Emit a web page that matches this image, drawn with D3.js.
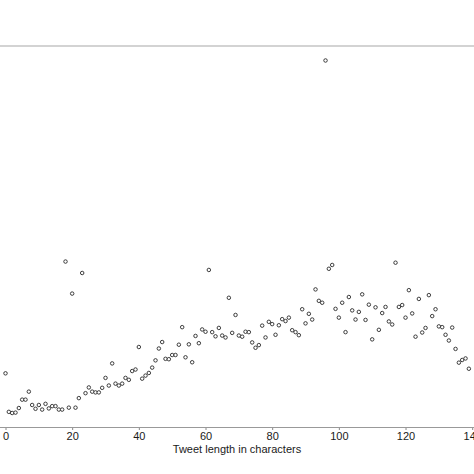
<!DOCTYPE html>
<html>
<head>
<meta charset="utf-8">
<script src="https://cdn.jsdelivr.net/npm/d3@7"></script>
<style>
  html, body { margin: 0; padding: 0; background: #fff; }
  svg { display: block; font-family: "Liberation Sans", Arial, sans-serif; }
</style>
</head>
<body>
<svg id="chart" width="474" height="474"></svg>
<script>
// Tweet length (characters) and the measured value for each length
const lengths = d3.range(0, 140);
const values = [
  14.2, 4.1, 3.8, 3.9, 5.1, 7.3, 7.3, 9.4, 5.9, 4.9,
  5.9, 4.7, 6.2, 5.0, 5.6, 5.6, 4.7, 4.7, 43.5, 5.2,
  35.1, 5.2, 7.7, 40.5, 9.0, 10.5, 9.4, 9.2, 9.2, 10.4,
  13.0, 11.0, 16.8, 11.5, 11.0, 11.5, 13.0, 12.5, 14.8, 15.2,
  21.1, 12.8, 13.6, 14.3, 15.7, 17.6, 20.7, 22.4, 18.0, 17.9,
  19.0, 19.0, 21.7, 26.3, 18.4, 21.8, 17.1, 24.0, 22.1, 25.7,
  25.1, 41.3, 25.0, 23.9, 26.1, 24.1, 23.6, 34.0, 24.8, 29.5,
  24.1, 23.8, 25.1, 25.0, 22.3, 20.9, 21.6, 26.7, 23.6, 27.7,
  27.1, 24.3, 26.8, 28.4, 27.9, 28.8, 25.5, 25.0, 24.2, 31.0,
  27.3, 29.8, 28.3, 36.2, 33.2, 32.7, 96.2, 41.6, 42.6, 31.1,
  28.8, 32.7, 25.0, 34.2, 30.7, 28.3, 30.3, 34.9, 28.2, 32.2,
  23.1, 31.5, 25.6, 30.0, 31.6, 27.8, 27.0, 43.2, 31.6, 32.1,
  28.8, 36.0, 29.9, 23.8, 33.7, 24.9, 26.1, 34.7, 29.2, 31.0,
  26.5, 26.3, 24.3, 22.8, 26.2, 20.6, 17.0, 17.7, 18.1, 15.4
];
const xTicks = [0, 20, 40, 60, 80, 100, 120, 140];
const xTitle = "Tweet length in characters";

const data = lengths.map((l, i) => ({ x: l, y: values[i] }));

const W = 474, H = 474;
const svg = d3.select("#chart");

const x = d3.scaleLinear().domain([0, 140]).range([5.5, 472.2]);
const y = d3.scaleLinear().domain([0, 100]).range([427.5, 46]);

// top frame line
svg.append("line")
  .attr("x1", 0).attr("x2", W)
  .attr("y1", y(100)).attr("y2", y(100))
  .attr("stroke", "#a8a8a8").attr("stroke-width", 1.2);

// x axis
const axisG = svg.append("g")
  .attr("transform", `translate(0,${y(0)})`)
  .call(d3.axisBottom(x).tickValues(xTicks).tickSize(2.5).tickSizeOuter(0).tickPadding(2));
axisG.select(".domain").remove();
axisG.selectAll(".tick line").attr("stroke", "#888").attr("stroke-width", 1);
axisG.selectAll(".tick text")
  .attr("font-family", "Liberation Sans, Arial, sans-serif")
  .attr("font-size", 11).attr("fill", "#1a1a1a");

svg.append("line")
  .attr("x1", 0).attr("x2", W)
  .attr("y1", y(0)).attr("y2", y(0))
  .attr("stroke", "#999").attr("stroke-width", 1.2);

svg.append("text")
  .attr("x", 237).attr("y", 453)
  .attr("text-anchor", "middle")
  .attr("font-size", 11).attr("fill", "#1a1a1a")
  .text(xTitle);

// points
svg.append("g").selectAll("circle")
  .data(data)
  .join("circle")
  .attr("cx", d => x(d.x))
  .attr("cy", d => y(d.y))
  .attr("r", 1.75)
  .attr("fill", "#fff")
  .attr("stroke", "#333")
  .attr("stroke-width", 0.95);
</script>
</body>
</html>
